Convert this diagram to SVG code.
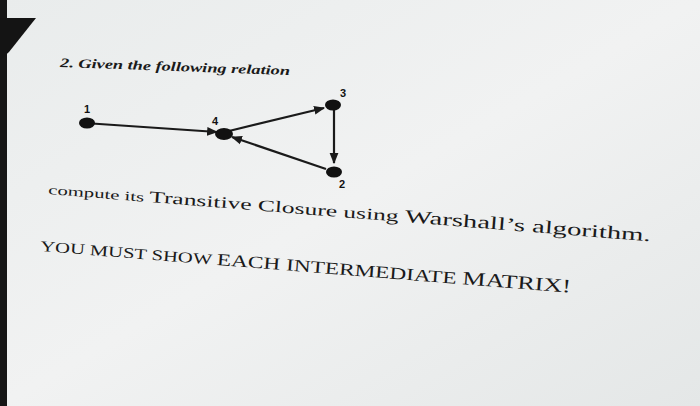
<svg xmlns="http://www.w3.org/2000/svg" width="700" height="406" viewBox="0 0 700 406">
<defs>
<style>
.lbl{font-family:"Liberation Sans",Arial,sans-serif;font-weight:bold;font-size:11px;fill:#111}
.edge{stroke:#1a1a1a;stroke-width:2.2;fill:none;marker-end:url(#ah)}
.serif{font-family:"Liberation Serif","Times New Roman",serif;fill:#1a1a1a}
</style>
<marker id="ah" viewBox="0 0 10 10" refX="9" refY="5" markerWidth="5" markerHeight="5" orient="auto" markerUnits="strokeWidth">
<path d="M0,1 L10,5 L0,9 Z" fill="#1a1a1a"/>
</marker>
<linearGradient id="bg" x1="0" y1="0" x2="1" y2="1">
<stop offset="0" stop-color="#e9ecec"/>
<stop offset="0.5" stop-color="#f1f2f2"/>
<stop offset="1" stop-color="#e4e7e7"/>
</linearGradient>
</defs>
<rect width="700" height="406" fill="url(#bg)"/>
<rect x="0" y="0" width="7" height="406" fill="#161616"/>
<path d="M0,18 L36,18 L9,52 L0,60 Z" fill="#141414"/>
<text class="serif" x="60" y="67" font-size="13" font-style="italic" font-weight="bold" transform="rotate(2 60 67)" textLength="230" lengthAdjust="spacingAndGlyphs">2. Given the following relation</text>
<g id="connectors">
<line class="edge" x1="92" y1="123.5" x2="217" y2="132"/>
<line class="edge" x1="229" y1="131" x2="324" y2="108"/>
<line class="edge" x1="334" y1="110" x2="334" y2="163"/>
<line class="edge" x1="326" y1="169" x2="232" y2="137"/>
</g>
<g id="node1"><ellipse cx="87" cy="123" rx="8" ry="5.5" fill="#111"/><text class="lbl" x="84" y="113">1</text></g>
<g id="node4"><ellipse cx="224" cy="134" rx="9" ry="6" fill="#111"/><text class="lbl" x="212" y="125">4</text></g>
<g id="node3"><ellipse cx="333" cy="105" rx="8" ry="5.5" fill="#111"/><text class="lbl" x="340" y="97">3</text></g>
<g id="node2"><ellipse cx="334" cy="172" rx="8" ry="5.5" fill="#111"/><text class="lbl" x="339" y="188">2</text></g>
<text class="serif" x="48" y="194" font-size="16" transform="rotate(4.5 48 194)" textLength="604" lengthAdjust="spacingAndGlyphs"><tspan font-size="13">compute its </tspan><tspan font-size="16">Transitive Closure using </tspan><tspan font-size="18">Warshall’s algorithm.</tspan></text>
<text class="serif" x="40" y="251" font-size="17" transform="rotate(4.5 40 251)" textLength="532" lengthAdjust="spacingAndGlyphs"><tspan font-size="15">YOU MUST SHOW </tspan><tspan font-size="17">EACH INTERMEDIATE </tspan><tspan font-size="19">MATRIX!</tspan></text>
</svg>
